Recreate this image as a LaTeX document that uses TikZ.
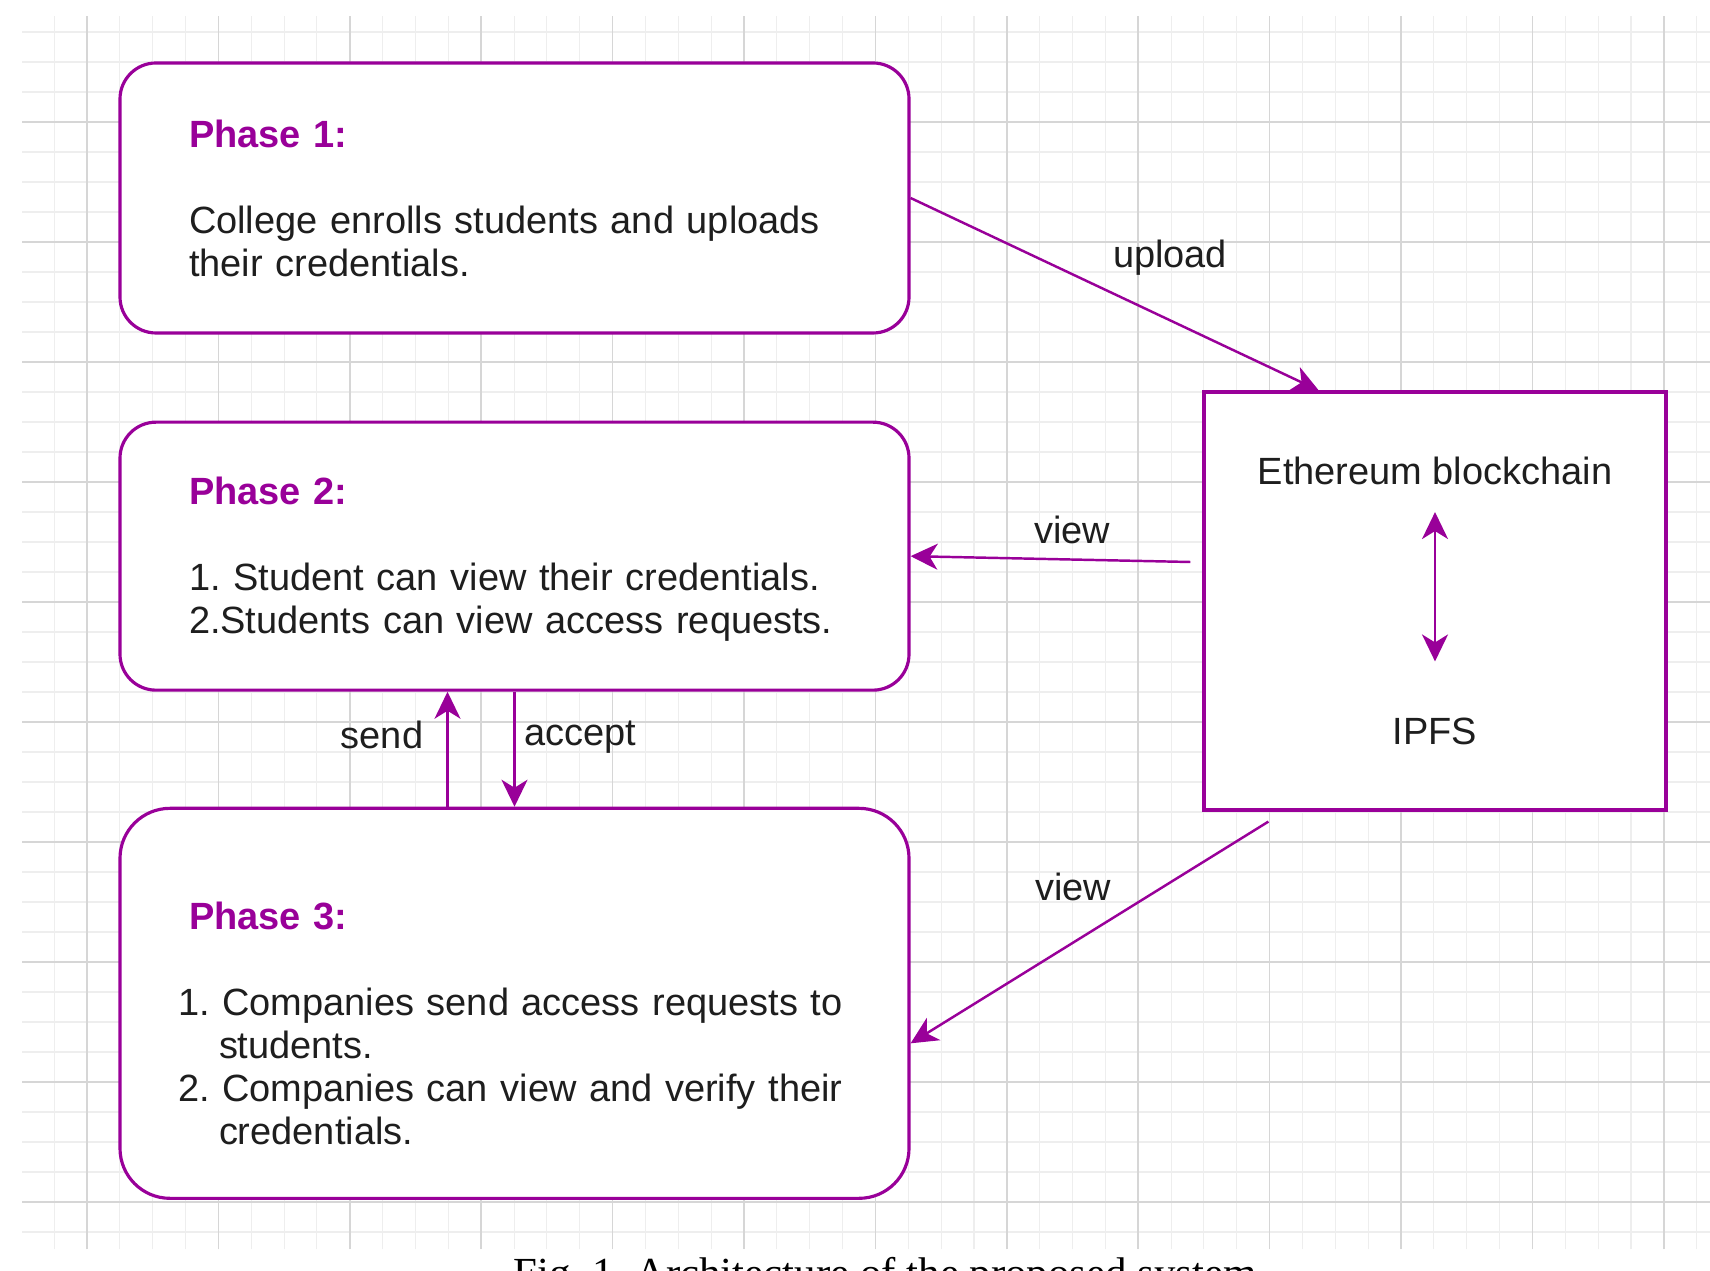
\documentclass[tikz,border=0pt]{standalone}
\usepackage{fontspec}
\setmainfont{Liberation Sans}
\newfontfamily\captionserif{Liberation Serif}
\usepackage{xcolor}
\usepackage{tikz}
\usetikzlibrary{arrows.meta,positioning,calc}
\frenchspacing

\definecolor{phasepurple}{RGB}{153,0,153}
\definecolor{ink}{RGB}{30,30,30}
\definecolor{gridlight}{RGB}{238,238,238}
\definecolor{griddark}{RGB}{214,214,214}
\newcommand{\bodyfont}{\fontsize{10.8pt}{12.24pt}\selectfont}
\newcommand{\phasetitle}[1]{{\bfseries\color{phasepurple}#1}}

\begin{document}
\begin{tikzpicture}[
    phase/.style={draw=phasepurple, line width=0.9pt, rounded corners=0.36cm, fill=white, text=ink,
        minimum width=7.89cm, text width=6.51cm, inner xsep=0.69cm, inner ysep=0pt,
        align=left, font=\bodyfont},
    store/.style={draw=phasepurple, line width=0.9pt, fill=white, minimum width=4.62cm, minimum height=4.18cm},
    flow/.style={-{Stealth[length=0.27cm, width=0.26cm, inset=0.08cm]}, draw=phasepurple, line width=0.7pt},
    lbl/.style={font=\bodyfont, text=ink, inner sep=0pt},
    gridthin/.style={draw=gridlight, line width=0.3pt},
    gridthick/.style={draw=griddark, line width=0.45pt},
    node distance=0.86cm,
]
\useasboundingbox (0,0) rectangle (17.1,12.7);
\clip (0,0) rectangle (17.1,12.7);
\fill[white] (0,0) rectangle (17.1,12.7);

% background grid
\foreach \k in {-1,...,49}
    \draw[gridthin] ({0.87+0.3285*\k},0.21) -- ({0.87+0.3285*\k},12.54);
\foreach \k in {1,...,41}
    \draw[gridthin] (0.22,{12.68-0.3*\k}) -- (17.1,{12.68-0.3*\k});
\foreach \k in {0,...,12}
    \draw[gridthick] ({0.87+1.314*\k},0.21) -- ({0.87+1.314*\k},12.54);
\foreach \k in {1,...,10}
    \draw[gridthick] (0.22,{12.68-1.2*\k}) -- (17.1,{12.68-1.2*\k});

% phases
\node[phase, minimum height=2.70cm, text height=0.28cm] (phase1) at (5.145,10.72)
    {\phasetitle{Phase 1:}\\[0.43cm]College enrolls students and uploads\\their credentials.};
\node[phase, minimum height=2.68cm, text height=0.34cm, below=of phase1] (phase2)
    {\phasetitle{Phase 2:}\\[0.43cm]1. Student can view their credentials.\\2.Students can view access requests.};
\node[phase, minimum height=3.90cm, text height=0.68cm, rounded corners=0.5cm,
      inner xsep=0.58cm, text width=6.73cm, below=1.15cm of phase2] (phase3)
    {\hspace*{0.11cm}\phasetitle{Phase 3:}\\[0.43cm]1. Companies send access requests to\\
     \hspace*{0.41cm}students.\\2. Companies can view and verify their\\\hspace*{0.41cm}credentials.};

% storage
\node[store] (eth) at (14.35,6.69) {};
\node[lbl] (chain) at ([yshift=-0.81cm]eth.north) {Ethereum blockchain};
\node[lbl] (ipfs) at ([yshift=0.80cm]eth.south) {IPFS};

\coordinate (viewsrc) at ([xshift=-0.12cm, yshift=0.39cm]eth.west);
\coordinate (viewsrc2) at ([xshift=0.66cm, yshift=-0.10cm]eth.south west);

\draw[flow] (phase1.east) -- ($(eth.north west)!0.25!(eth.north east)$);
\draw[flow] (viewsrc) -- (phase2.east);
\draw[flow] (viewsrc2) -- ([yshift=-0.40cm]phase3.east);
\draw[flow] ([xshift=-0.67cm]phase3.north) -- ([xshift=-0.67cm]phase2.south);
\draw[flow] (phase2.south) -- (phase3.north);
\draw[flow, {Stealth[length=0.27cm, width=0.26cm, inset=0.08cm]}-{Stealth[length=0.27cm, width=0.26cm, inset=0.08cm]}]
    ([yshift=-0.26cm]chain.south) -- ([yshift=0.56cm]ipfs.north);

% labels
\node[lbl] (uploadlbl) at (11.70,10.12) {upload};
\node[lbl] (viewlbl) at (10.72,7.40) {view};
\node[lbl] (viewlbl2) at (10.73,3.83) {view};
\node[lbl] (sendlbl) at (3.82,5.35) {send};
\node[lbl] (acceptlbl) at (5.80,5.33) {accept};

\node[font=\captionserif\fontsize{12.2pt}{14pt}\selectfont, anchor=base west, text=black, inner sep=0pt]
    (caption) at (5.13,-0.17) {Fig. 1. Architecture of the proposed system};
\end{tikzpicture}
\end{document}
